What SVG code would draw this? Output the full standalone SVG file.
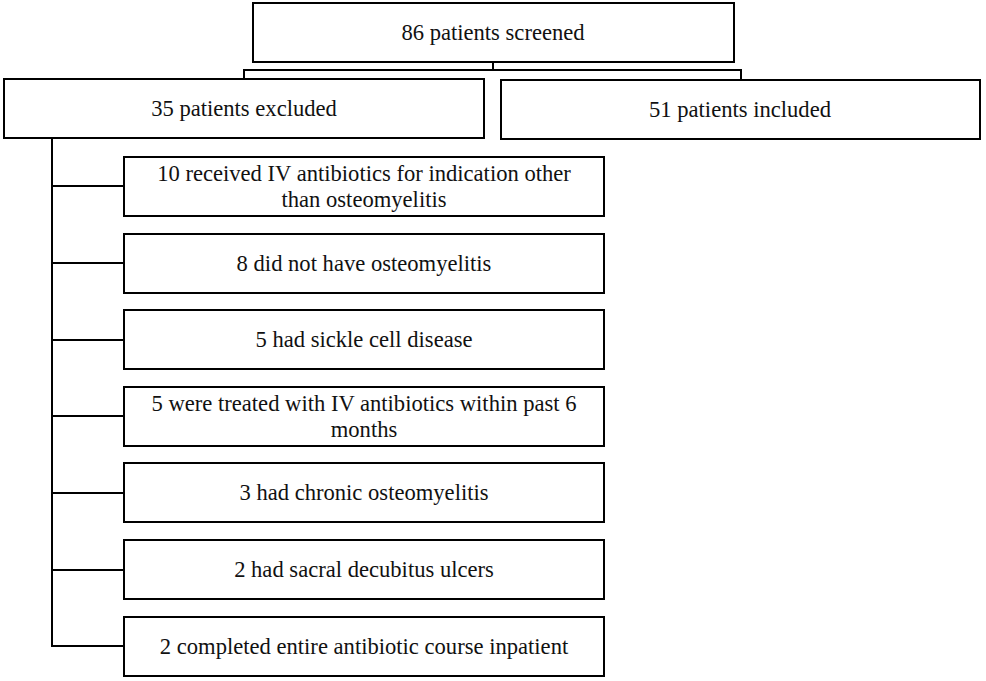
<svg xmlns="http://www.w3.org/2000/svg" width="986" height="681" viewBox="0 0 986 681">
<style>
rect{fill:#fff;stroke:#000;stroke-width:2}
text{font-family:"Liberation Serif",serif;font-size:22.6px;fill:#111;text-anchor:middle}
.c{fill:none;stroke:#000;stroke-width:2}
</style>
<rect width="986" height="681" style="fill:#fff;stroke:none"/>
<g id="connectors">
<path class="c" d="M493 62V70M244 79V70H741V80"/>
<path class="c" d="M52 138V646H124M52 186H124M52 263H124M52 340H124M52 416H124M52 493H124M52 570H124"/>
</g>
<g id="screened"><rect x="253" y="3" width="481" height="59"/><text x="493" y="40">86 patients screened</text></g>
<g id="excluded"><rect x="4" y="79" width="480" height="59"/><text x="244" y="116">35 patients excluded</text></g>
<g id="included"><rect x="501" y="80" width="479" height="59"/><text x="740" y="117">51 patients included</text></g>
<g id="r1"><rect x="124" y="157" width="480" height="59"/><text x="364" y="181">10 received IV antibiotics for indication other</text><text x="364" y="207">than osteomyelitis</text></g>
<g id="r2"><rect x="124" y="234" width="480" height="59"/><text x="364" y="271">8 did not have osteomyelitis</text></g>
<g id="r3"><rect x="124" y="310" width="480" height="59"/><text x="364" y="347">5 had sickle cell disease</text></g>
<g id="r4"><rect x="124" y="387" width="480" height="59"/><text x="364" y="411">5 were treated with IV antibiotics within past 6</text><text x="364" y="437">months</text></g>
<g id="r5"><rect x="124" y="463" width="480" height="59"/><text x="364" y="500">3 had chronic osteomyelitis</text></g>
<g id="r6"><rect x="124" y="540" width="480" height="59"/><text x="364" y="577">2 had sacral decubitus ulcers</text></g>
<g id="r7"><rect x="124" y="617" width="480" height="59"/><text x="364" y="654">2 completed entire antibiotic course inpatient</text></g>
</svg>
